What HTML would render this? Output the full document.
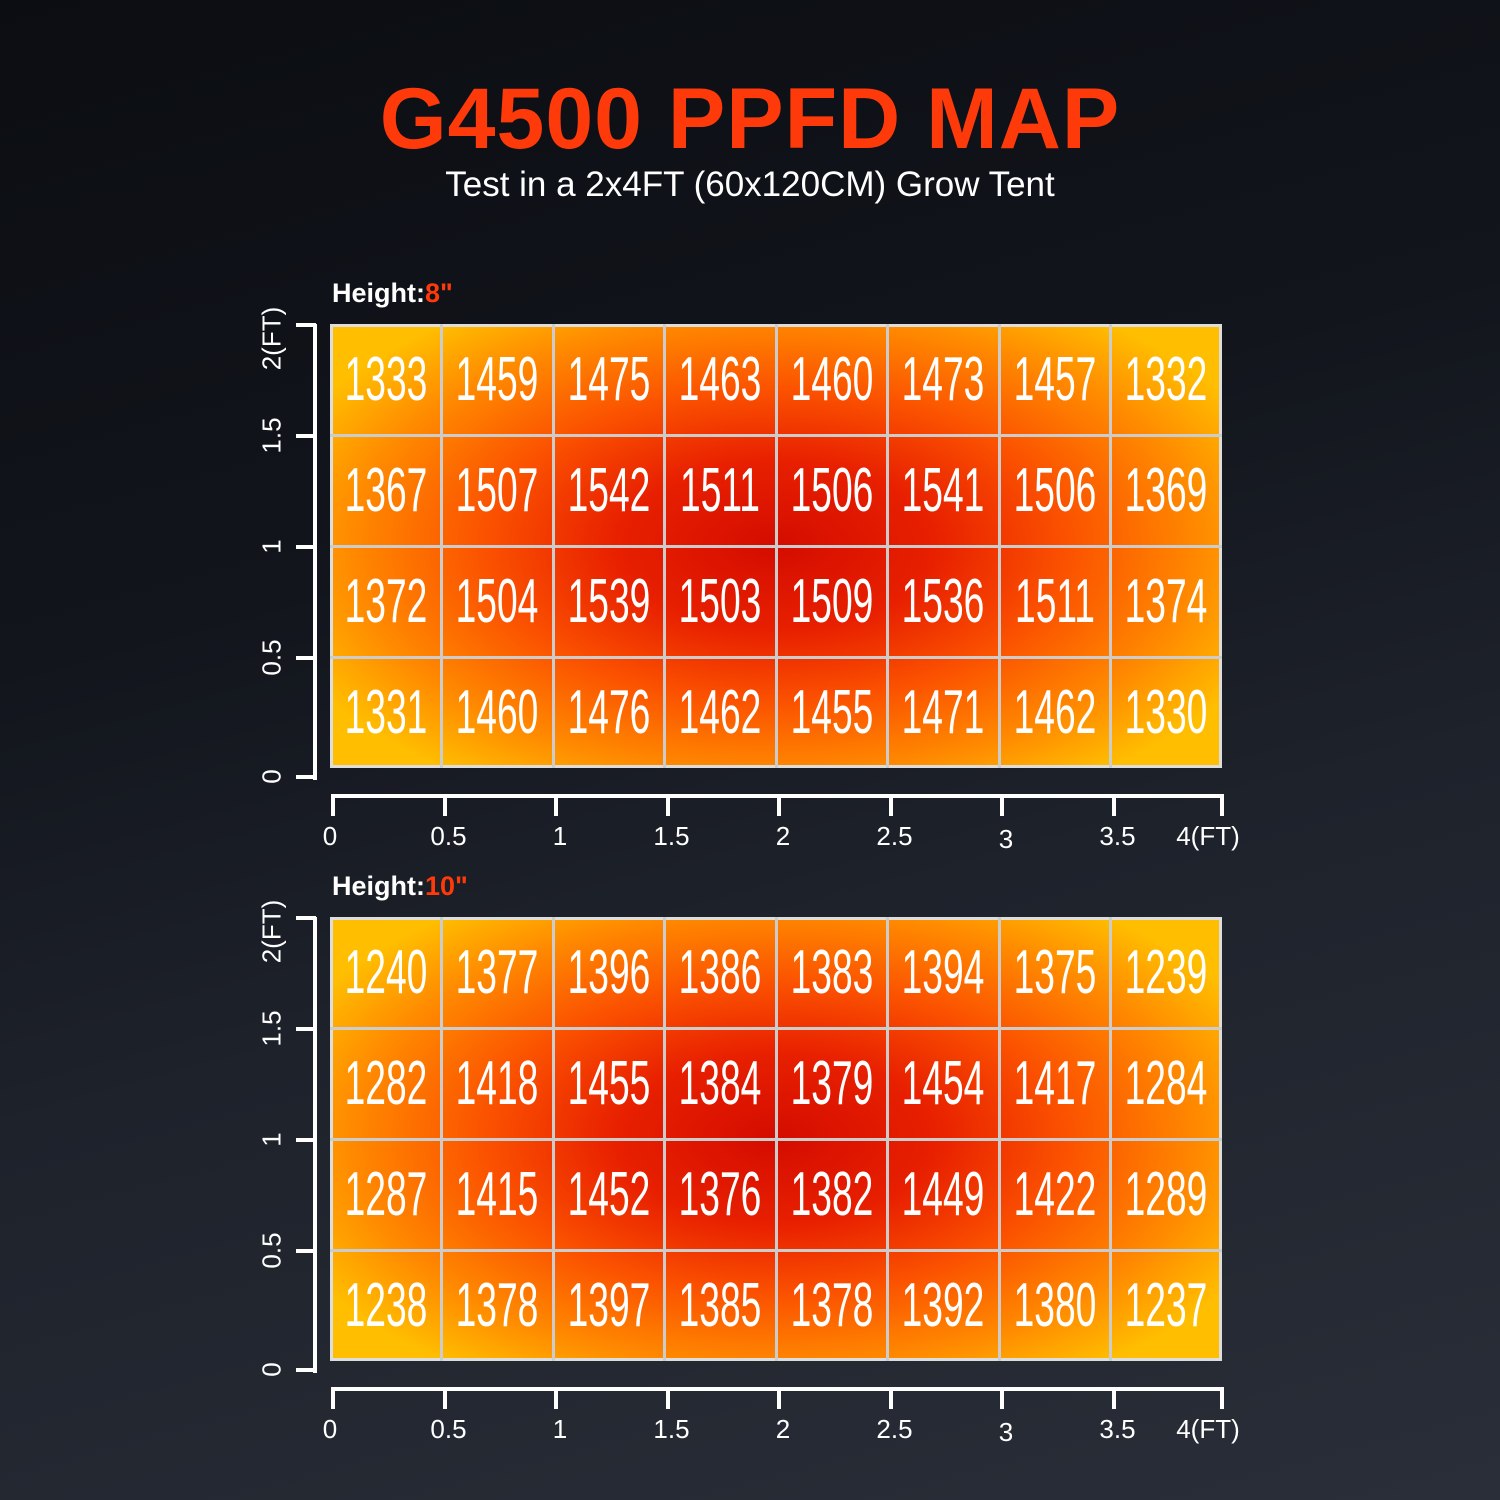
<!DOCTYPE html>
<html><head><style>
html,body{margin:0;padding:0}
body{width:1500px;height:1500px;position:relative;overflow:hidden;font-family:"Liberation Sans",sans-serif;
background:linear-gradient(165deg,#0b0d12 0%,#12151c 35%,#1e222b 60%,#2a2e38 100%);}
.abs{position:absolute}
.title{left:0;width:1500px;top:70px;text-align:center;color:#ff3a0a;font-weight:bold;font-size:86px;letter-spacing:1px}
.sub{left:0;width:1500px;top:165px;text-align:center;color:#fff;font-size:35px}
.h{color:#fff;font-weight:bold;font-size:27px}
.h span{color:#ff3a0a}
.grid{width:892px;height:444px;background:radial-gradient(ellipse 60% 65% at 50% 50%,#d40c00 0%,#e82000 30%,#fb5200 55%,#ff8a00 80%,#ffbe00 100%);border:3px solid #ddd;box-sizing:border-box}
.cell{position:absolute;width:111.5px;height:111px;color:#fff;font-size:62px;line-height:111px}
.cell b{position:absolute;left:50%;top:0;font-weight:normal;white-space:nowrap;transform:translateX(-50%) scaleX(0.6)}
.vl{position:absolute;background:#ccc;width:3px}
.hl{position:absolute;background:#ccc;height:3px}
.w{position:absolute;background:#fff}
.lab{position:absolute;color:#fff;font-size:26px;width:80px;text-align:center}
.rl{position:absolute;color:#fff;font-size:26px;transform:rotate(-90deg);transform-origin:center;width:80px;text-align:center}
</style></head><body>
<div class="abs title">G4500 PPFD MAP</div>
<div class="abs sub">Test in a 2x4FT (60x120CM) Grow Tent</div>
<div id="c"></div>
<script>
const d1=[[1333,1459,1475,1463,1460,1473,1457,1332],[1367,1507,1542,1511,1506,1541,1506,1369],[1372,1504,1539,1503,1509,1536,1511,1374],[1331,1460,1476,1462,1455,1471,1462,1330]];
const d2=[[1240,1377,1396,1386,1383,1394,1375,1239],[1282,1418,1455,1384,1379,1454,1417,1284],[1287,1415,1452,1376,1382,1449,1422,1289],[1238,1378,1397,1385,1378,1392,1380,1237]];
let h='';
function chart(top,data,hl){
 h+=`<div class="abs h" style="left:332px;top:${top-46}px">Height:<span>${hl}"</span></div>`;
 h+=`<div class="abs grid" style="left:330px;top:${top}px"></div>`;
 for(let r=0;r<4;r++)for(let c=0;c<8;c++){h+=`<div class="cell" style="left:${330+c*111.5}px;top:${top+r*111}px"><b>${data[r][c]}</b></div>`;}
 for(let c=1;c<8;c++)h+=`<div class="vl" style="left:${330+c*111.5-1.5}px;top:${top}px;height:444px"></div>`;
 for(let r=1;r<4;r++)h+=`<div class="hl" style="left:330px;width:892px;top:${top+r*111-1.5}px"></div>`;
 h+=`<div class="w" style="left:313px;top:${top}px;width:4px;height:456px"></div>`;
 for(let r=0;r<=4;r++){let y=top+r*111-(r==4?-8:0);h+=`<div class="w" style="left:296px;top:${y-1.5}px;width:20px;height:4px"></div>`;}
 const yl=['2(FT)','1.5','1','0.5','0'];
 for(let r=0;r<=4;r++){let y=top+r*111+(r==4?8:0)+(r==0?14:0);h+=`<div class="rl" style="left:232px;top:${y-15}px">${yl[r]}</div>`;}
 let by=top+470;
 h+=`<div class="w" style="left:331px;top:${by}px;width:893px;height:4px"></div>`;
 const xl=['0','0.5','1','1.5','2','2.5','3','3.5','4(FT)'];
 for(let c=0;c<=8;c++){let x=331+c*111.5-(c==8?3:0);h+=`<div class="w" style="left:${x}px;top:${by}px;width:4px;height:22px"></div>`;
  let cx=c==0?330:(c==8?1208:x+6);h+=`<div class="lab" style="left:${cx-40}px;top:${by+27+(c==6?3:0)}px">${xl[c]}</div>`;}
}
chart(324,d1,'8');chart(917,d2,'10');
document.getElementById('c').innerHTML=h;
</script>
</body></html>
